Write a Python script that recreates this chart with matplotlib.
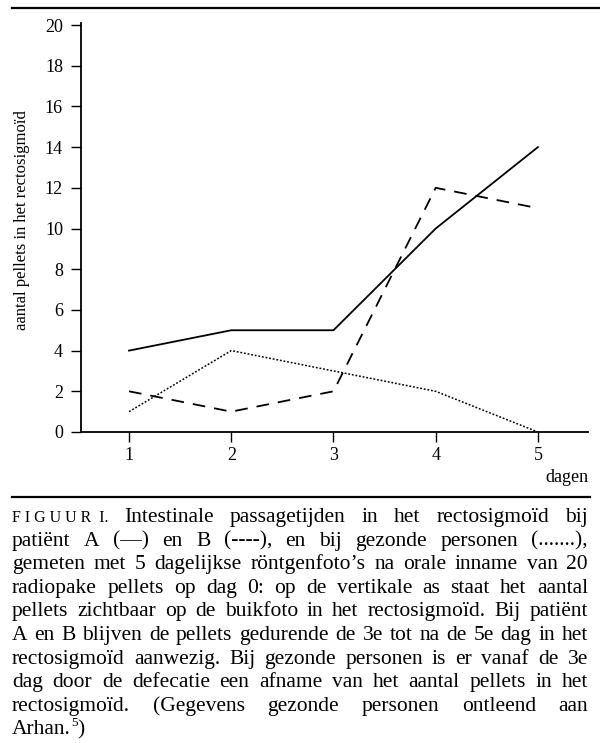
import matplotlib
matplotlib.use('Agg')
import matplotlib.pyplot as plt
from matplotlib.lines import Line2D

plt.rcParams['font.family'] = ['Liberation Serif', 'DejaVu Serif']

# data
dagen = [1, 2, 3, 4, 5]
patient_a = [4, 5, 5, 10, 14]
patient_b = [2, 1, 2, 12, 11]
gezond = [1, 4, 3, 2, 0]
y_ticks = [0, 2, 4, 6, 8, 10, 12, 14, 16, 18, 20]

caption_lines = [
    'Intestinale passagetijden in het rectosigmoïd bij',
    'patiënt A (—) en B (----), en bij gezonde personen (.......),',
    'gemeten met 5 dagelijkse röntgenfoto’s na orale inname van 20',
    'radiopake pellets op dag 0: op de vertikale as staat het aantal',
    'pellets zichtbaar op de buikfoto in het rectosigmoïd. Bij patiënt',
    'A en B blijven de pellets gedurende de 3e tot na de 5e dag in het',
    'rectosigmoïd aanwezig. Bij gezonde personen is er vanaf de 3e',
    'dag door de defecatie een afname van het aantal pellets in het',
    'rectosigmoïd. (Gegevens gezonde personen ontleend aan',
]

W, H = 600, 743
fig = plt.figure(figsize=(6, 7.43), dpi=100)
ax = fig.add_axes([81 / W, 1 - 432 / H, 507 / W, 409 / H])

ax.plot(dagen, patient_a, color='black', lw=1.3)
ax.plot(dagen, patient_b, color='black', lw=1.3, dashes=(7, 5))
ax.plot(dagen, gezond, color='black', lw=1.1, dashes=(1.2, 1.2))

ax.set_xlim(0.53, 5.49)
ax.set_ylim(0, 20.1)
ax.set_xticks(dagen)
ax.set_yticks(y_ticks)
ax.spines['top'].set_visible(False)
ax.spines['right'].set_visible(False)
for s in ['left', 'bottom']:
    ax.spines[s].set_linewidth(1.3)
ax.tick_params(direction='out', length=7, width=1.0, labelsize=13, pad=3)
ax.tick_params(axis='x', pad=4)
ax.tick_params(axis='y', pad=6)

fig.text(22 / W, 1 - 220 / H, 'aantal pellets in het rectosigmoïd', rotation=90,
         ha='center', va='center', fontsize=12)
fig.text(588 / W, 1 - 478 / H, 'dagen', ha='right', va='center', fontsize=13)

# rules above and below the figure
fig.add_artist(Line2D([12 / W, 1.0], [1 - 8 / H, 1 - 8 / H], color='black', lw=1.6))
fig.add_artist(Line2D([12 / W, 590 / W], [1 - 497 / H, 1 - 497 / H], color='black', lw=1.6))

# justified caption
renderer = fig.canvas.get_renderer()
left, right = 12, 588
y0, dy = 522, 23.6
fs = 15.5


def width_of(txt, size):
    t = fig.text(0, 0, txt, fontsize=size)
    w = t.get_window_extent(renderer).width
    t.remove()
    return w


for i, line in enumerate(caption_lines):
    words = [(w, fs) for w in line.split(' ')]
    if i == 0:
        words = [('F I G U U R  I.', 11.5)] + words
    widths = [width_of(w, s) for w, s in words]
    gap = (right - left - sum(widths)) / (len(words) - 1)
    x = left
    yb = 1 - (y0 + i * dy) / H
    for (w, s), wd in zip(words, widths):
        fig.text(x / W, yb, w, fontsize=s, ha='left', va='baseline')
        x += wd + gap

yb = 1 - (y0 + len(caption_lines) * dy) / H
x = left
fig.text(x / W, yb, 'Arhan.', fontsize=fs, va='baseline')
x += width_of('Arhan.', fs)
fig.text(x / W, yb + 8 / H, '5', fontsize=9.5, va='baseline')
x += width_of('5', 9.5)
fig.text(x / W, yb, ')', fontsize=fs, va='baseline')

fig.savefig('out.png', dpi=100)
